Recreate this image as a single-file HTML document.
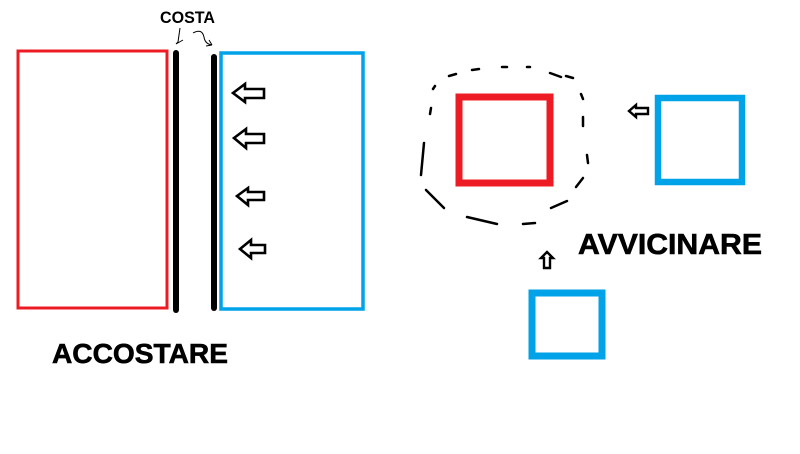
<!DOCTYPE html>
<html><head><meta charset="utf-8"><style>html,body{margin:0;padding:0;background:#fff}svg{display:block}</style></head>
<body>
<svg width="800" height="454" viewBox="0 0 800 454" xmlns="http://www.w3.org/2000/svg">
<rect x="0" y="0" width="800" height="454" fill="#fff"/>
<!-- left group -->
<rect x="18" y="51" width="149" height="257" fill="none" stroke="#ed1c24" stroke-width="3"/>
<line x1="176" y1="53" x2="176" y2="310" stroke="#000" stroke-width="6" stroke-linecap="round"/>
<line x1="214" y1="57" x2="214" y2="308" stroke="#000" stroke-width="6" stroke-linecap="round"/>
<rect x="221" y="53" width="142" height="256" fill="none" stroke="#00a2e8" stroke-width="3.5"/>
<text x="160" y="23" font-family="Liberation Sans, sans-serif" font-weight="bold" font-size="17" textLength="55" lengthAdjust="spacingAndGlyphs">COSTA</text>
<path d="M180 28 L178 42 L176 44 M176 44 L183 40" fill="none" stroke="#000" stroke-width="1"/>
<path d="M193 33 Q202 28 204 37 Q205 44 212 45 M212 45 L209 40 M212 45 L206 46" fill="none" stroke="#000" stroke-width="1"/>
<g fill="none" stroke="#000" stroke-width="2.6" stroke-linejoin="miter">
<path d="M233 93 L245 84 L245 89 L264 89 L264 98 L245 98 L245 102 Z"/>
<path d="M234 138 L246 129 L246 134 L264 134 L264 143 L246 143 L246 148 Z"/>
<path d="M237 196 L248 188 L248 192 L264 192 L264 200 L248 200 L248 205 Z"/>
<path d="M240 249 L251 240 L251 245 L265 245 L265 253 L251 253 L251 258 Z"/>
</g>
<text x="52" y="363" font-family="Liberation Sans, sans-serif" font-weight="bold" font-size="28" textLength="176" lengthAdjust="spacingAndGlyphs" stroke="#000" stroke-width="0.6">ACCOSTARE</text>
<!-- right group -->
<rect x="459" y="97" width="91" height="86" fill="none" stroke="#ed1c24" stroke-width="7"/>
<rect x="658" y="98" width="84" height="84" fill="none" stroke="#00a2e8" stroke-width="6.5"/>
<rect x="532" y="293" width="70" height="63" fill="none" stroke="#00a2e8" stroke-width="7"/>
<g fill="none" stroke="#000" stroke-width="2.4">
<path d="M629 111 L636 105 L636 108 L648 108 L648 114 L636 114 L636 117 Z"/>
<path d="M547 252 L553 258 L550 258 L550 268 L544 268 L544 258 L541 258 Z"/>
</g>
<g stroke="#000" stroke-width="2.5" stroke-linecap="round" fill="none">
<line x1="433" y1="89" x2="435" y2="86"/>
<line x1="449" y1="76" x2="456" y2="74"/>
<line x1="472" y1="70" x2="479" y2="69"/>
<line x1="502" y1="67" x2="507" y2="67"/>
<line x1="527" y1="67" x2="530" y2="67"/>
<line x1="550" y1="73" x2="561" y2="77"/>
<line x1="566" y1="76" x2="573" y2="78"/>
<line x1="581" y1="94" x2="583" y2="99"/>
<line x1="583" y1="117" x2="583" y2="126"/>
<line x1="587" y1="155" x2="588" y2="163"/>
<line x1="576" y1="187" x2="583" y2="178"/>
<line x1="551" y1="208" x2="567" y2="201"/>
<line x1="523" y1="224" x2="535" y2="223"/>
<line x1="467" y1="217" x2="497" y2="224"/>
<line x1="426" y1="190" x2="444" y2="208"/>
<line x1="421" y1="175" x2="424" y2="143"/>
<line x1="430" y1="114" x2="431" y2="108"/>
</g>
<text x="578" y="254" font-family="Liberation Sans, sans-serif" font-weight="bold" font-size="29" textLength="184" lengthAdjust="spacingAndGlyphs" stroke="#000" stroke-width="0.6">AVVICINARE</text>
</svg>
</body></html>
